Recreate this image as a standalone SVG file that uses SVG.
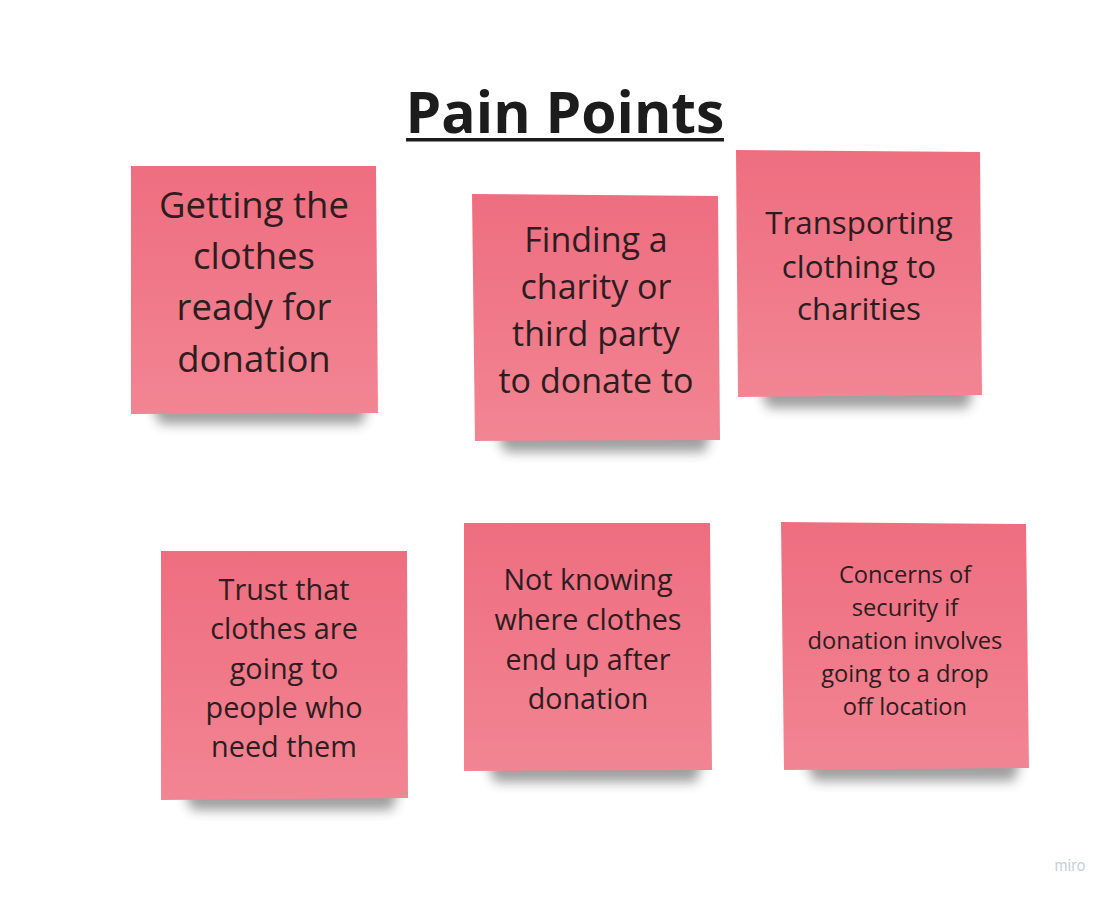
<svg xmlns="http://www.w3.org/2000/svg" width="1114" height="897" viewBox="0 0 1114 897">
<defs>
<linearGradient id="paper" x1="0" y1="0" x2="0" y2="1">
<stop offset="0" stop-color="#EE6E80"/>
<stop offset="0.55" stop-color="#F07A8A"/>
<stop offset="1" stop-color="#F28593"/>
</linearGradient>
<filter id="blur" x="-20%" y="-50%" width="140%" height="200%">
<feGaussianBlur stdDeviation="6"/>
</filter>
<style>
.note{fill:url(#paper);}
.shadow{fill:#2a2a2a;opacity:0.45;filter:url(#blur);}
.t{font-family:"Open Sans","Noto Sans",sans-serif;fill:#2d1c20;text-anchor:middle;}
.title{font-family:"Open Sans","Noto Sans",sans-serif;font-weight:bold;font-size:57px;fill:#1c1c1c;text-anchor:middle;}
</style>
</defs>
<rect width="1114" height="897" fill="#ffffff"/>
<g id="title">
<text class="title" x="565" y="133">Pain Points</text>
<rect x="406" y="138" width="318" height="3.5" fill="#1c1c1c"/>
</g>
<g id="note1">
<path class="shadow" d="M150,400 L370,398 L362,424 L160,424 Z"/>
<polygon class="note" points="131,166 376,166 378,413 131,414"/>
<text class="t" font-size="36.5" x="254" y="218">Getting the</text>
<text class="t" font-size="36.5" x="254" y="269">clothes</text>
<text class="t" font-size="36.5" x="254" y="320">ready for</text>
<text class="t" font-size="36.5" x="254" y="372">donation</text>
</g>
<g id="note2">
<path class="shadow" d="M495,428 L712,426 L705,452 L505,452 Z"/>
<polygon class="note" points="472,194 718,196 720,440 475,441"/>
<text class="t" font-size="34" x="596" y="252">Finding a</text>
<text class="t" font-size="34" x="596" y="299">charity or</text>
<text class="t" font-size="34" x="596" y="346">third party</text>
<text class="t" font-size="34" x="596" y="393">to donate to</text>
</g>
<g id="note3">
<path class="shadow" d="M758,384 L975,382 L968,408 L768,408 Z"/>
<polygon class="note" points="736,150 980,152 982,395 738,397"/>
<text class="t" font-size="31.3" x="859" y="234">Transporting</text>
<text class="t" font-size="31.3" x="859" y="278">clothing to</text>
<text class="t" font-size="31.3" x="859" y="320">charities</text>
</g>
<g id="note4">
<path class="shadow" d="M182,786 L400,784 L392,810 L192,810 Z"/>
<polygon class="note" points="161,551 407,551 408,798 161,800"/>
<text class="t" font-size="28.8" x="284" y="600">Trust that</text>
<text class="t" font-size="28.8" x="284" y="639">clothes are</text>
<text class="t" font-size="28.8" x="284" y="679">going to</text>
<text class="t" font-size="28.8" x="284" y="718">people who</text>
<text class="t" font-size="28.8" x="284" y="757">need them</text>
</g>
<g id="note5">
<path class="shadow" d="M485,758 L704,756 L696,782 L495,782 Z"/>
<polygon class="note" points="464,523 710,523 712,770 464,771"/>
<text class="t" font-size="28.7" x="588" y="590">Not knowing</text>
<text class="t" font-size="28.7" x="588" y="630">where clothes</text>
<text class="t" font-size="28.7" x="588" y="670">end up after</text>
<text class="t" font-size="28.7" x="588" y="709">donation</text>
</g>
<g id="note6">
<path class="shadow" d="M804,757 L1022,755 L1014,781 L814,781 Z"/>
<polygon class="note" points="781,522 1026,524 1029,768 784,770"/>
<text class="t" font-size="23.7" x="905" y="583">Concerns of</text>
<text class="t" font-size="23.7" x="905" y="616">security if</text>
<text class="t" font-size="23.7" x="905" y="649">donation involves</text>
<text class="t" font-size="23.7" x="905" y="682">going to a drop</text>
<text class="t" font-size="23.7" x="905" y="715">off location</text>
</g>
<g id="connectors"></g>
<text x="1070" y="871" font-family="Inter,'Open Sans',sans-serif" font-size="15" fill="#c9cdd8" text-anchor="middle">miro</text>
</svg>
